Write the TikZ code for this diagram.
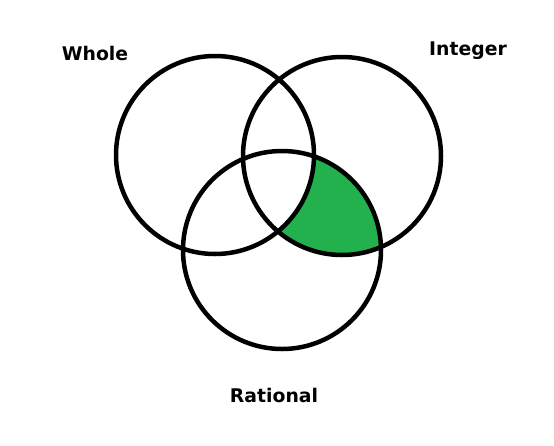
\documentclass[tikz,border=0pt]{standalone}
\usepackage{fontspec}
\setmainfont{DejaVu Sans}
\definecolor{vgreen}{HTML}{22B14C}
\begin{document}
\begin{tikzpicture}[x=1pt,y=-1pt,
  ring/.style={draw=black,line width=4.5pt},
  lbl/.style={font=\bfseries\fontsize{18.8}{20}\selectfont,inner sep=0pt,anchor=center}]
\fill[white] (0,0) rectangle (554,445);
\useasboundingbox (0,0) rectangle (554,445);
\coordinate (W) at (215,155);
\coordinate (I) at (342,156);
\coordinate (R) at (282,250);
\begin{scope}
  \clip (I) circle[radius=99];
  \clip (R) circle[radius=99];
  \fill[vgreen] (0,0) rectangle (554,445);
  \fill[white] (W) circle[radius=99];
\end{scope}
\draw[ring] (W) circle[radius=99];
\draw[ring] (I) circle[radius=99];
\draw[ring] (R) circle[radius=99];
\node[lbl] (lw) at (95,53) {Whole};
\node[lbl] (li) at (468,51) {Integer};
\node[lbl] (lr) at (274,395) {Rational};
\end{tikzpicture}
\end{document}
